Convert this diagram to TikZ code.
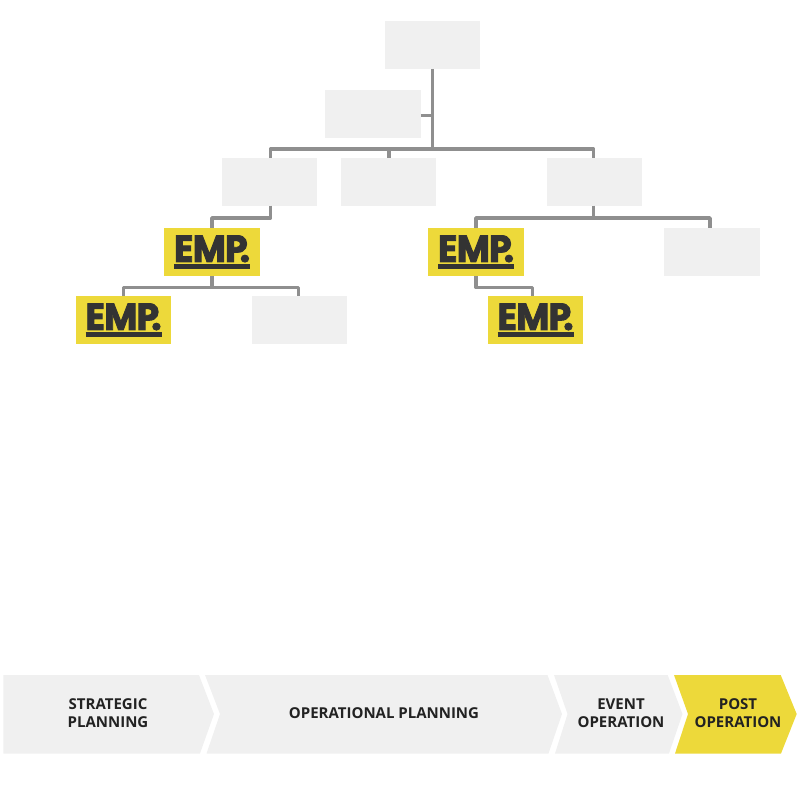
\documentclass[tikz,border=0pt]{standalone}
\usepackage{fontspec}
\usepackage{graphicx}
\setmainfont{Open Sans}
\newfontfamily\empfont[LetterSpace=-2,FakeBold=2.5]{Poppins Bold}
\usepackage{xcolor}
\usetikzlibrary{positioning}
\definecolor{boxgray}{HTML}{F0F0F0}
\definecolor{empyellow}{HTML}{EDD93A}
\definecolor{linegray}{HTML}{8F8F8F}
\definecolor{logodark}{HTML}{333333}
\definecolor{labeldark}{HTML}{222222}
\newcommand{\emplogo}{\resizebox{76pt}{33pt}{\vbox{\offinterlineskip\hbox{\empfont\fontsize{37}{37}\selectfont EMP\kern-8pt.}\kern1.7pt\hrule height 4.6pt}}}

\begin{document}
\begin{tikzpicture}[
x=1pt, y=-1pt,
box/.style={fill=boxgray, minimum width=95.5pt, minimum height=48pt, inner sep=0pt, outer sep=0pt},
emp/.style={fill=empyellow, minimum width=95.5pt, minimum height=48pt, inner sep=0pt, outer sep=0pt, text=logodark},
link/.style={draw=linegray, line width=3.4pt, line join=round},
phase/.style={fill=boxgray},
phasehot/.style={fill=empyellow},
phaselabel/.style={align=center, text=labeldark, font=\bfseries\fontsize{15}{18}\selectfont},
]
\useasboundingbox (0,0) rectangle (800,800);

%Top of the tree
\node[box] (root) at (432.5,45) {};
\node[box] (side) [below left=21pt and -36pt of root] {};

%Third row
\node[box] (a) [below left=19.5pt and 8pt of side] {};
\node[box] (b) [right=23.5pt of a] {};
\node[box] (c) [right=110.5pt of b] {};

%Fourth row
\node[emp] (emp1) [below left=22.5pt and -38pt of a] {\emplogo};
\node[emp] (emp3) [below left=22.5pt and 23pt of c] {\emplogo};
\node[box] (e) [right=140.5pt of emp3] {};

%Fifth row
\node[emp] (emp2) [below left=20pt and -7pt of emp1] {\emplogo};
\node[box] (d) [right=80.5pt of emp2] {};
\node[emp] (emp4) [below right=20pt and -36pt of emp3] {\emplogo};

%Bus lines
\coordinate (bus1) at ([yshift=8.5pt]b.north);
\coordinate (bus2) at ([yshift=10pt]emp3.north);
\coordinate (bus3) at ([yshift=-11.5pt]emp1.south);
\coordinate (drop4) at ([xshift=-3pt]emp4.north);

%Connections
\draw[link] (root.south) -- (root.south |- bus1);
\draw[link] ([yshift=-1.5pt]side.east) -- ([yshift=-1.5pt]side.east -| root.south);
\draw[link] ([xshift=1pt]a.north) |- (bus1) -| ([xshift=-1pt]c.north);
\draw[link] ([xshift=0.5pt]b.north) -- ([xshift=0.5pt]b.north |- bus1);
\draw[link] ([xshift=1pt]a.south) |- ([yshift=10pt]emp1.north) -- (emp1.north);
\draw[link] ([xshift=-1pt]c.south) -- ([xshift=-1pt]c.south |- bus2);
\draw[link] (emp3.north) |- (bus2) -| ([xshift=-2pt]e.north);
\draw[link] (emp1.south) -- (emp1.south |- bus3);
\draw[link] (emp2.north) |- (bus3) -| ([xshift=-1pt]d.north);
\draw[link] (emp3.south) |- (bus3 -| drop4) -- (drop4);

%Phase arrows
\fill[phase] (3.3,675) -- (199,675) -- (214,714) -- (200,753.5) -- (3.3,753.5) -- cycle;
\fill[phase] (205,675) -- (547.5,675) -- (562,714) -- (548.5,753.5) -- (206.5,753.5) -- (220,714) -- cycle;
\fill[phase] (554,675) -- (667.7,675) -- (682.5,714) -- (669,753.5) -- (555,753.5) -- (567.5,714) -- cycle;
\fill[phasehot] (674,675) -- (780.7,675) -- (796.7,714) -- (781,753.5) -- (675,753.5) -- (688,714) -- cycle;

%Phase labels
\node[phaselabel] (l1) at (108,713) {STRATEGIC\\PLANNING};
\node[phaselabel] (l2) at (384,713) {OPERATIONAL PLANNING};
\node[phaselabel] (l3) at (621,713) {EVENT\\OPERATION};
\node[phaselabel] (l4) at (738,713) {POST\\OPERATION};
\end{tikzpicture}
\end{document}
